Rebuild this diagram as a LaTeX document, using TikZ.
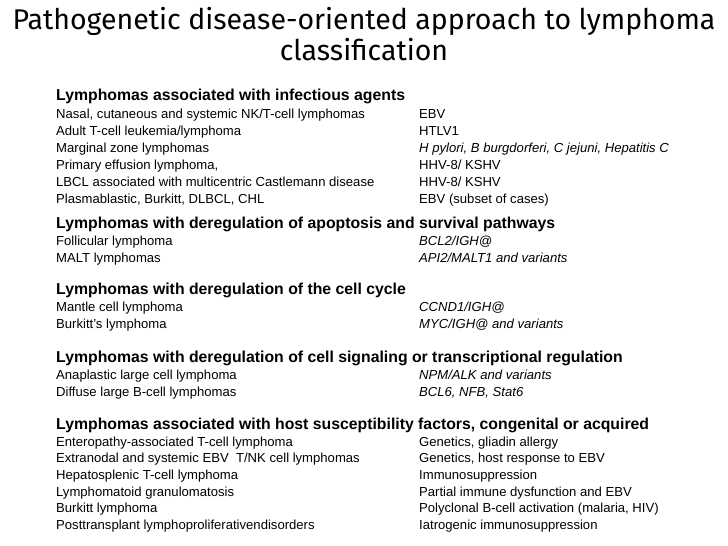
\documentclass[tikz,border=0pt]{standalone}
\usepackage{fontspec}
\setmainfont{Liberation Sans}
\newfontfamily\titlefont{Fira Sans}
\begin{document}
\begin{tikzpicture}[x=1pt,y=-1pt,
  hd/.style={anchor=base west,inner sep=0,font=\fontsize{15.8}{17}\selectfont\bfseries},
  it/.style={anchor=base west,inner sep=0,font=\fontsize{13.1}{14}\selectfont},
  iti/.style={anchor=base west,inner sep=0,font=\fontsize{13.1}{14}\selectfont\itshape},
  tt/.style={anchor=base,inner sep=0,font=\titlefont\fontsize{28.5}{30}\selectfont}]
\useasboundingbox[fill=white] (0,0) rectangle (728,546);
\node[tt] (t1) at (364,29) {Pathogenetic disease-oriented approach to lymphoma};
\node[tt] (t2) at (364,60) {classification};
\def\L#1#2#3{\node[it] at (56,#1+5) {#2};}
\def\R#1#2{\node[it] at (419,#1+5) {#2};}
\def\RI#1#2{\node[iti] at (419,#1+5) {#2};}
\node[hd] (h1) at (56,100) {Lymphomas associated with infectious agents};
\L{113}{Nasal, cutaneous and systemic NK/T-cell lymphomas}{}\R{113}{EBV}
\L{130}{Adult T-cell leukemia/lymphoma}{}\R{130}{HTLV1}
\L{147}{Marginal zone lymphomas}{}\RI{147}{H pylori, B burgdorferi, C jejuni, Hepatitis C}
\L{164}{Primary effusion lymphoma,}{}\R{164}{HHV-8/ KSHV}
\L{181}{LBCL associated with multicentric Castlemann disease}{}\R{181}{HHV-8/ KSHV}
\L{198}{Plasmablastic, Burkitt, DLBCL, CHL}{}\R{198}{EBV (subset of cases)}
\node[hd] (h2) at (56,228) {Lymphomas with deregulation of apoptosis and survival pathways};
\L{240}{Follicular lymphoma}{}\RI{240}{BCL2/IGH@}
\L{257}{MALT lymphomas}{}\RI{257}{API2/MALT1 and variants}
\node[hd] (h3) at (56,294) {Lymphomas with deregulation of the cell cycle};
\L{306}{Mantle cell lymphoma}{}\RI{306}{CCND1/IGH@}
\L{323}{Burkitt’s lymphoma}{}\RI{323}{MYC/IGH@ and variants}
\node[hd] (h4) at (56,362) {Lymphomas with deregulation of cell signaling or transcriptional regulation};
\L{374}{Anaplastic large cell lymphoma}{}\RI{374}{NPM/ALK and variants}
\L{391}{Diffuse large B-cell lymphomas}{}\RI{391}{BCL6, NFB, Stat6}
\node[hd] (h5) at (56,429) {Lymphomas associated with host susceptibility factors, congenital or acquired};
\L{441}{Enteropathy-associated T-cell lymphoma}{}\R{441}{Genetics, gliadin allergy}
\L{457}{Extranodal and systemic EBV\ \ T/NK cell lymphomas}{}\R{457}{Genetics, host response to EBV}
\L{474}{Hepatosplenic T-cell lymphoma}{}\R{474}{Immunosuppression}
\L{491}{Lymphomatoid granulomatosis}{}\R{491}{Partial immune dysfunction and EBV}
\L{507}{Burkitt lymphoma}{}\R{507}{Polyclonal B-cell activation (malaria, HIV)}
\L{524}{Posttransplant lymphoproliferativendisorders}{}\R{524}{Iatrogenic immunosuppression}
\end{tikzpicture}
\end{document}
